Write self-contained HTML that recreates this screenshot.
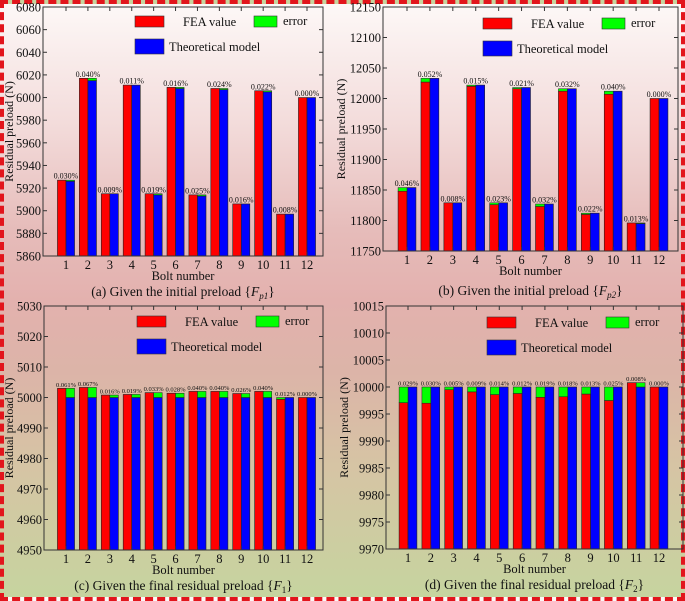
<!DOCTYPE html>
<html><head><meta charset="utf-8"><style>
html,body{margin:0;padding:0;}
body{width:685px;height:601px;overflow:hidden;background:#bbb;}
#frame{position:absolute;left:0;top:0;width:677px;height:593px;border:4px dashed #e2151c;background:linear-gradient(to bottom,#fdf8f7 0%,#f3dcdb 20%,#e6bcba 38%,#e3b1ae 50%,#dcb4a8 62%,#d6c4a4 78%,#c6d49f 100%);}
svg{position:absolute;left:0;top:0;font-family:"Liberation Serif",serif;}
</style></head><body>
<div id="frame"></div>
<svg id="chart" width="685" height="601"></svg>
<script>
const categories=["1","2","3","4","5","6","7","8","9","10","11","12"];
const feaA=[5927,6017,5915,6011,5915,6009,5914,6008,5906,6006,5897,6000];
const theoA=[5926,6015,5915,6011,5914,6008,5913,6007,5906,6005,5897,6000];
const errA=["0.030%","0.040%","0.009%","0.011%","0.019%","0.016%","0.025%","0.024%","0.016%","0.022%","0.008%","0.000%"];
const ticksA=[5860,5880,5900,5920,5940,5960,5980,6000,6020,6040,6060,6080];
const feaB=[11848,12027,11829,12020,11826,12016,11823,12012,11810,12007,11796,12000];
const theoB=[11854,12033,11829,12022,11829,12018,11827,12016,11812,12012,11795,12000];
const errB=["0.046%","0.052%","0.008%","0.015%","0.023%","0.021%","0.032%","0.032%","0.022%","0.040%","0.013%","0.000%"];
const ticksB=[11750,11800,11850,11900,11950,12000,12050,12100,12150];
const feaC=[5003,5003.3,5000.8,5001,5001.6,5001.4,5002,5002,5001.3,5002,4999.4,5000];
const theoC=[5000,5000,5000,5000,5000,5000,5000,5000,5000,5000,5000,5000];
const errC=["0.061%","0.067%","0.016%","0.019%","0.033%","0.028%","0.040%","0.040%","0.026%","0.040%","0.012%","0.000%"];
const ticksC=[4950,4960,4970,4980,4990,5000,5010,5020,5030];
const feaD=[9997.1,9997.0,9999.5,9999.1,9998.6,9998.8,9998.1,9998.2,9998.7,9997.5,10000.8,10000];
const theoD=[10000,10000,10000,10000,10000,10000,10000,10000,10000,10000,10000,10000];
const errD=["0.029%","0.030%","0.005%","0.009%","0.014%","0.012%","0.019%","0.018%","0.013%","0.025%","0.008%","0.000%"];
const ticksD=[9970,9975,9980,9985,9990,9995,10000,10005,10010,10015];

const svg=document.getElementById('chart');
const NS='http://www.w3.org/2000/svg';
function mk(tag,attrs,parent,text){const e=document.createElementNS(NS,tag);for(const k in attrs)e.setAttribute(k,attrs[k]);if(text!==undefined)e.textContent=text;(parent||svg).appendChild(e);return e;}

function panel(P){
  const g=mk('g',{});
  
  
  const y0=P.ticks[0],y1=P.ticks[P.ticks.length-1];
  const ys=v=>P.b-(v-y0)/(y1-y0)*(P.b-P.t);
  const xs=i=>P.c1+i*(P.c12-P.c1)/11;
  const bw=(P.c12-P.c1)/11*0.39;
  categories.forEach((c,i)=>{
    const cx=xs(i),f=P.fea[i],th=P.theo[i];
    const r=mk('rect',{x:cx-bw,y:ys(f),width:bw,height:P.b-ys(f),fill:'#ff0000',stroke:'#222','stroke-width':0.6},g);
    
    
    const bl=mk('rect',{x:cx,y:ys(th),width:bw,height:P.b-ys(th),fill:'#0000ff',stroke:'#222','stroke-width':0.6},g);
    
    
    if(f!==th){
      const lo=Math.min(f,th),hi=Math.max(f,th);
      const ex=f<th?cx-bw:cx;
      const er=mk('rect',{x:ex,y:ys(hi),width:bw,height:ys(lo)-ys(hi),fill:'#00ff00',stroke:'#222','stroke-width':0.5},g);
      
      
    }
    const lt=mk('text',{x:cx,y:ys(Math.max(f,th))-1.5,'font-size':P.lfs,'text-anchor':'middle',fill:'#111'},g,P.err[i]);
    
    
    const xt=mk('text',{x:cx,y:P.b+13,'font-size':12.5,'text-anchor':'middle',fill:'#111'},g,c);
    
    
    mk('line',{x1:cx,x2:cx,y1:P.b,y2:P.b-4,stroke:'#333'},g);
    mk('line',{x1:cx,x2:cx,y1:P.t,y2:P.t+4,stroke:'#333'},g);
  });
  const ax=mk('rect',{x:P.l,y:P.t,width:P.r-P.l,height:P.b-P.t,fill:'none',stroke:'#333','stroke-width':1},g);
  
  
  P.ticks.forEach(v=>{
    const y=ys(v);
    mk('line',{x1:P.l,x2:P.l+4,y1:y,y2:y,stroke:'#333'},g);
    mk('line',{x1:P.r,x2:P.r-4,y1:y,y2:y,stroke:'#333'},g);
    const t=mk('text',{x:P.l-2,y:y+4.5,'font-size':12.5,'text-anchor':'end',fill:'#111'},g,String(v));
    
    
  });
  const yt=mk('text',{x:0,y:0,'font-size':12,'text-anchor':'middle',fill:'#111',transform:`translate(${P.yx},${(P.t+P.b)/2}) rotate(-90)`},g,P.ytitle);
  
  
  const xt=mk('text',{x:(P.l+P.r)/2,y:P.b+24,'font-size':12.5,'text-anchor':'middle',fill:'#111'},g,'Bolt number');
  
  
  const cap=mk('text',{x:(P.l+P.r)/2,y:P.capy,'font-size':13.5,'text-anchor':'middle',fill:'#111'},g);
  
  
  cap.innerHTML=P.cap;
  const L=P.leg;
  const lg=mk('g',{},g);
  
  
  mk('rect',{x:L[0],y:L[1],width:29,height:11,fill:'#ff0000',stroke:'#333','stroke-width':0.6},lg);
  mk('text',{x:L[0]+48,y:L[1]+10,'font-size':12.5,fill:'#111'},lg,'FEA value');
  mk('rect',{x:L[0]+119,y:L[1],width:23,height:11,fill:'#00ff00',stroke:'#333','stroke-width':0.6},lg);
  mk('text',{x:L[0]+148,y:L[1]+9,'font-size':12.5,fill:'#111'},lg,'error');
  mk('rect',{x:L[0],y:L[1]+23,width:29,height:15,fill:'#0000ff',stroke:'#333','stroke-width':0.6},lg);
  mk('text',{x:L[0]+34,y:L[1]+35,'font-size':12.5,fill:'#111'},lg,'Theoretical model');
}
panel({name:'panel-a',l:43,r:323,t:7,b:256,c1:66,c12:307,ticks:ticksA,fea:feaA,theo:theoA,err:errA,lfs:8,yx:13,ytitle:'Residual  preload (N)',capy:296,cap:'(a) Given the initial preload {<tspan font-style="italic">F</tspan><tspan font-style="italic" font-size="9" dy="3">p1</tspan><tspan dy="-3">}</tspan>',leg:[135,16]});
panel({name:'panel-b',l:383,r:678,t:7,b:251,c1:407,c12:659,ticks:ticksB,fea:feaB,theo:theoB,err:errB,lfs:8,yx:345,ytitle:'Residual  preload (N)',capy:295,cap:'(b) Given the initial preload {<tspan font-style="italic">F</tspan><tspan font-style="italic" font-size="9" dy="3">p2</tspan><tspan dy="-3">}</tspan>',leg:[483,18]});
panel({name:'panel-c',l:44,r:323,t:306,b:550,c1:66,c12:307,ticks:ticksC,fea:feaC,theo:theoC,err:errC,lfs:6.5,yx:13,ytitle:'Residual preload (N)',capy:590,cap:'(c) Given the final residual preload {<tspan font-style="italic">F</tspan><tspan font-size="9" dy="3">1</tspan><tspan dy="-3">}</tspan>',leg:[137,316]});
panel({name:'panel-d',l:386,r:683,t:306,b:549,c1:408,c12:659,ticks:ticksD,fea:feaD,theo:theoD,err:errD,lfs:6.5,yx:348,ytitle:'Residual preload (N)',capy:589,cap:'(d) Given the final residual preload {<tspan font-style="italic">F</tspan><tspan font-size="9" dy="3">2</tspan><tspan dy="-3">}</tspan>',leg:[487,317]});
</script>
</body></html>
